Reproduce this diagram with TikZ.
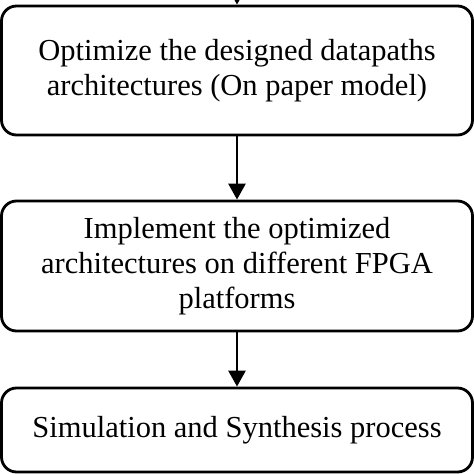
\documentclass[tikz,border=0pt]{standalone}
\usepackage{fontspec}
\setmainfont{Liberation Serif}
\usetikzlibrary{arrows.meta}

\begin{document}
\begin{tikzpicture}[x=1bp,y=-1bp]

% estilos de caja y flecha
\tikzstyle{paso}  = [draw=black,line width=2.8bp,rounded corners=15bp,
                     minimum width=471bp,inner sep=0pt,align=center,
                     font=\fontsize{30.5bp}{35bp}\selectfont]
\tikzstyle{flecha} = [line width=2.7bp,-{Triangle[length=16bp,width=17bp]}]

% marco de la figura
\useasboundingbox (0,0) rectangle (474,474);

% cajas
\node [paso,minimum height=129bp] (optim) at (237,70.5)
  {Optimize the designed datapaths\\architectures (On paper model)};
\node [paso,minimum height=130bp] (impl) at (237,266)
  {Implement the optimized\\architectures on different FPGA\\platforms};
\node [paso,minimum height=84bp] (simul) at (237,430)
  {Simulation and Synthesis process};

% flechas
\coordinate (entrada) at (237,-20);
\draw [flecha] (entrada) -- (optim);
\draw [flecha] (optim) -- (impl);
\draw [flecha] (impl) -- (simul);

\end{tikzpicture}
\end{document}
